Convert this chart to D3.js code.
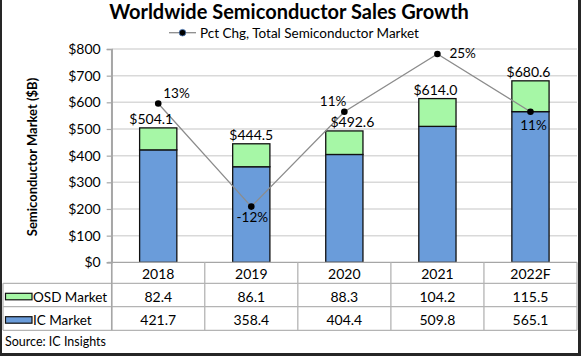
<!DOCTYPE html>
<html>
<head>
<meta charset="utf-8">
<script src="https://cdn.jsdelivr.net/npm/d3@7"></script>
<style>
  html, body { margin: 0; padding: 0; background: #fff; }
  svg { display: block; font-family: Lato, "Open Sans", sans-serif; }
</style>
</head>
<body>
<svg id="chart" width="581" height="356"></svg>
<script>
// ---- data ----
const categories = ["2018", "2019", "2020", "2021", "2022F"];
const osdMarket = [82.4, 86.1, 88.3, 104.2, 115.5];
const icMarket = [421.7, 358.4, 404.4, 509.8, 565.1];
const totalMarket = [504.1, 444.5, 492.6, 614.0, 680.6];
const pctChange = [13, -12, 11, 25, 11];
const yTicks = [0, 100, 200, 300, 400, 500, 600, 700, 800];
const seriesNames = ["OSD Market", "IC Market"];

// ---- layout ----
const W = 581, H = 356;
const plotL = 111.7, plotR = 577, plotT = 49, plotB = 262.3;
const rowLines = [283.3, 306.7, 330.3];
const colors = { osd: "#a6f7a6", ic: "#6a9cda", grid: "#d9d9d9", axis: "#a6a6a6", table: "#b4b4b4", line: "#8c8c8c", frame: "#262626" };
const numFont = "14px", txtFont = "13px";

const svg = d3.select("#chart");

const x = d3.scaleBand().domain(categories).range([plotL, plotR]).paddingInner(0).paddingOuter(0);
const y = d3.scaleLinear().domain([0, 800]).range([plotB, plotT]);
const yPct = d3.scaleLinear().domain([-25.5, 26.2]).range([plotB, plotT]);
const barW = x.bandwidth() * 0.4;
const cx = c => x(c) + x.bandwidth() / 2;

// gridlines
svg.append("g").selectAll("line").data(yTicks.filter(d => d > 0)).join("line")
  .attr("x1", plotL).attr("x2", plotR)
  .attr("y1", d => y(d)).attr("y2", d => y(d))
  .attr("stroke", colors.grid).attr("stroke-width", 1.5);

// y axis
const yAxis = d3.axisLeft(y).tickValues(yTicks).tickFormat(d => "$" + d).tickSize(5).tickPadding(6);
const gAxis = svg.append("g").attr("transform", `translate(${plotL},0)`).call(yAxis);
gAxis.select(".domain").attr("stroke", colors.axis).attr("stroke-width", 1.5);
gAxis.selectAll(".tick line").attr("stroke", colors.axis).attr("stroke-width", 1.2);
gAxis.selectAll(".tick text").attr("fill", "#000").style("font-size", numFont).style("font-family", "Lato, sans-serif");

// stacked bars
const stackData = categories.map((c, i) => ({ cat: c, ic: icMarket[i], osd: osdMarket[i] }));
const stack = d3.stack().keys(["ic", "osd"])(stackData);
svg.append("g").selectAll("g").data(stack).join("g")
  .attr("fill", d => colors[d.key])
  .selectAll("rect").data(d => d).join("rect")
  .attr("x", d => x(d.data.cat) + (x.bandwidth() - barW) / 2)
  .attr("width", barW)
  .attr("y", d => y(d[1]))
  .attr("height", d => y(d[0]) - y(d[1]))
  .attr("stroke", "#111").attr("stroke-width", 1.3);

// table grid
const tg = svg.append("g").attr("stroke", colors.table).attr("stroke-width", 1.3);
tg.append("line").attr("x1", plotL - 4).attr("x2", plotR).attr("y1", plotB).attr("y2", plotB).attr("stroke", colors.axis);
rowLines.forEach(r => tg.append("line").attr("x1", 3).attr("x2", plotR).attr("y1", r).attr("y2", r));
categories.forEach(c => tg.append("line").attr("x1", x(c)).attr("x2", x(c)).attr("y1", plotB).attr("y2", rowLines[2]));
tg.append("line").attr("x1", plotR).attr("x2", plotR).attr("y1", plotB).attr("y2", rowLines[2]);
tg.append("line").attr("x1", 3).attr("x2", 3).attr("y1", rowLines[0]).attr("y2", rowLines[2]);

// axis line over table top
svg.append("line").attr("x1", plotL).attr("x2", plotL).attr("y1", plotT).attr("y2", rowLines[2]).attr("stroke", colors.axis).attr("stroke-width", 1.5);

// table text
const tt = svg.append("g").style("font-size", numFont).attr("text-anchor", "middle");
tt.selectAll(".yr").data(categories).join("text")
  .attr("x", d => cx(d)).attr("y", 279).text(d => d);
tt.selectAll(".osd").data(osdMarket).join("text")
  .attr("x", (d, i) => cx(categories[i])).attr("y", 301.5).text(d => d.toFixed(1));
tt.selectAll(".ic").data(icMarket).join("text")
  .attr("x", (d, i) => cx(categories[i])).attr("y", 325).text(d => d.toFixed(1));

// table legend keys
const keyRows = [{ name: seriesNames[0], color: colors.osd, y: 293.3, ty: 301.5 }, { name: seriesNames[1], color: colors.ic, y: 316.7, ty: 325 }];
keyRows.forEach(k => {
  svg.append("rect").attr("x", 5.5).attr("y", k.y).attr("width", 26.5).attr("height", 6.5)
    .attr("fill", k.color).attr("stroke", "#111").attr("stroke-width", 1.2);
  svg.append("text").attr("x", 33).attr("y", k.ty).style("font-size", "13.5px").text(k.name);
});

// line series (pct change)
const lineGen = d3.line().x((d, i) => cx(categories[i])).y(d => yPct(d));
svg.append("path").datum(pctChange).attr("d", lineGen)
  .attr("fill", "none").attr("stroke", colors.line).attr("stroke-width", 1.3);
svg.append("g").selectAll("circle").data(pctChange).join("circle")
  .attr("cx", (d, i) => cx(categories[i])).attr("cy", d => yPct(d))
  .attr("r", 3.3).attr("fill", "#000");

// pct labels
const pctPlace = [
  { dx: 5, dy: -5.5, anchor: "start" },
  { dx: 1, dy: 15.5, anchor: "middle" },
  { dx: 2, dy: -5.5, anchor: "end" },
  { dx: 12, dy: 4.5, anchor: "start" },
  { dx: 3, dy: 18, anchor: "middle" }
];
svg.append("g").style("font-size", "13.5px").selectAll("text").data(pctChange).join("text")
  .attr("x", (d, i) => cx(categories[i]) + pctPlace[i].dx)
  .attr("y", (d, i) => yPct(d) + pctPlace[i].dy)
  .attr("text-anchor", (d, i) => pctPlace[i].anchor)
  .text(d => d + "%");

// total labels
const totalNudge = [-7, 0, 8, -2, -2];
svg.append("g").style("font-size", numFont).attr("text-anchor", "middle")
  .selectAll("text").data(totalMarket).join("text")
  .attr("x", (d, i) => cx(categories[i]) + totalNudge[i])
  .attr("y", d => y(d) - 4)
  .text(d => "$" + d.toFixed(1));

// title
svg.append("text").attr("x", 289).attr("y", 19).attr("text-anchor", "middle")
  .style("font-size", "20px").style("font-weight", "bold").text("Worldwide Semiconductor Sales Growth");

// legend
svg.append("line").attr("x1", 169).attr("x2", 196).attr("y1", 32.7).attr("y2", 32.7).attr("stroke", colors.line).attr("stroke-width", 1.3);
svg.append("circle").attr("cx", 182.5).attr("cy", 32.7).attr("r", 3.3).attr("fill", "#000").attr("stroke", "#4a78b8").attr("stroke-width", 0.8);
svg.append("text").attr("x", 200).attr("y", 37.5).style("font-size", "13.5px").text("Pct Chg, Total Semiconductor Market");

// y axis title
svg.append("text").attr("transform", "translate(37,157) rotate(-90)").attr("text-anchor", "middle")
  .style("font-size", txtFont).style("font-weight", "bold").text("Semiconductor Market ($B)");

// source
svg.append("text").attr("x", 5).attr("y", 345.5).style("font-size", "12.5px").text("Source: IC Insights");

// frame
svg.append("rect").attr("x", 0).attr("y", 0).attr("width", 2).attr("height", H).attr("fill", colors.frame);
svg.append("rect").attr("x", 578).attr("y", 0).attr("width", 3).attr("height", H).attr("fill", colors.frame);
svg.append("rect").attr("x", 0).attr("y", 353).attr("width", W).attr("height", 3).attr("fill", colors.frame);
</script>
</body>
</html>
